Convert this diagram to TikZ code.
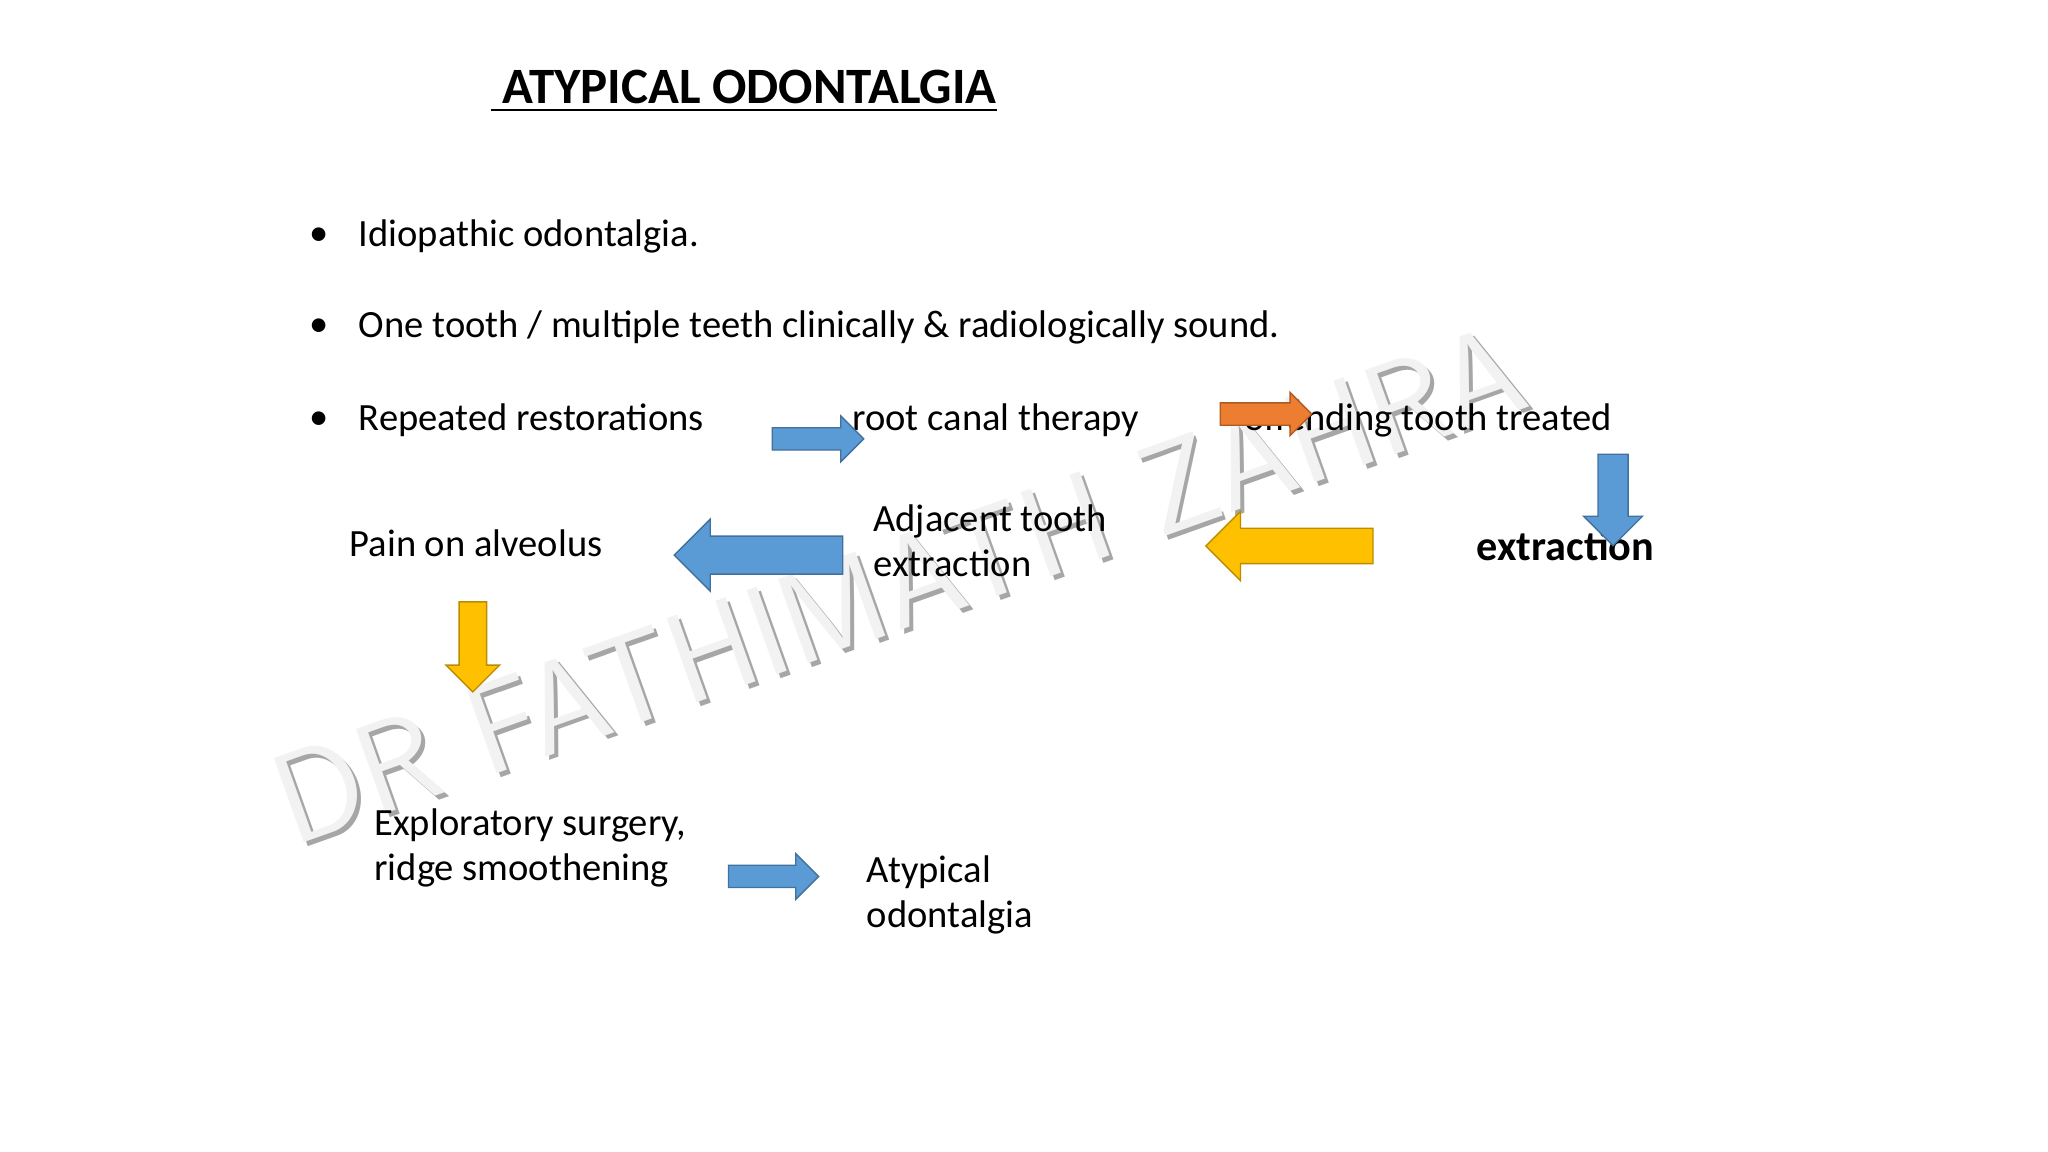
\documentclass[tikz,border=0pt]{standalone}
\usepackage{fontspec}
\setmainfont{Carlito}
\usetikzlibrary{shapes.arrows}
\definecolor{blu}{HTML}{5B9BD5}\definecolor{blub}{HTML}{41719C}
\definecolor{ora}{HTML}{ED7D31}\definecolor{orab}{HTML}{AE5A21}
\definecolor{yel}{HTML}{FFC000}\definecolor{yelb}{HTML}{BC8C00}
\tikzset{
 txt/.style={anchor=west,inner sep=0pt,font=\fontsize{8.4}{9.9}\selectfont,align=left},
 arr/.style={single arrow,inner xsep=0pt,line width=0.3pt},
 barrow/.style={arr,fill=blu,draw=blub},
 oarrow/.style={arr,fill=ora,draw=orab},
 yarrow/.style={arr,fill=yel,draw=yelb}}
\begin{document}
\begin{tikzpicture}[x=0.1mm,y=-0.1mm]
\useasboundingbox[fill=white] (0,0) rectangle (1568,882);
% watermark
\node[font=\sffamily\fontsize{28}{28}\selectfont,text=black!35,rotate=19.6,inner sep=0pt] (wms) at (691,450) {DR FATHIMATH ZAHRA};
\node[font=\sffamily\fontsize{28}{28}\selectfont,text=black!5,rotate=19.6,inner sep=0pt] (wm) at (688,447) {DR FATHIMATH ZAHRA};
\node[anchor=west,inner sep=0pt,font=\bfseries\fontsize{11.1}{12}\selectfont] (title) at (375,70) {\underline{\ ATYPICAL ODONTALGIA}};
\node[txt] (b1d) at (236,181) {•};
\node[txt] (b2d) at (236,251) {•};
\node[txt] (b3d) at (236,322) {•};
\node[txt] (b1) at (274,181) {Idiopathic odontalgia.};
\node[txt] (b2) at (274,251) {One tooth / multiple teeth clinically \& radiologically sound.};
\node[txt] (b3) at (274,322) {Repeated restorations};
\node[txt] (rct) at (652,322) {root canal therapy};
\node[txt] (off) at (952,322) {offending tooth treated};
\node[txt,font=\bfseries\fontsize{9.2}{10}\selectfont] (ext) at (1130,418) {extraction};
\node[txt] (adj) at (668,414) {Adjacent tooth\\extraction};
\node[txt] (pain) at (267,416) {Pain on alveolus};
\node[txt] (expl) at (286,649) {Exploratory surgery,\\ridge smoothening};
\node[txt] (aty) at (663,685) {Atypical\\odontalgia};
% arrows
\node[barrow,inner ysep=0.8mm,single arrow head extend=0.9mm,minimum height=7mm] (a1) at (622,336) {};
\node[oarrow,inner ysep=0.8mm,single arrow head extend=0.8mm,minimum height=7mm] (a2) at (965,317) {};
\node[barrow,inner ysep=1.1mm,single arrow head extend=1.1mm,minimum height=7mm,rotate=-90] (a3) at (1235,377) {};
\node[yarrow,inner ysep=1.3mm,single arrow head extend=1.3mm,minimum height=12.8mm,rotate=180] (a4) at (994,418) {};
\node[barrow,inner ysep=1.4mm,single arrow head extend=1.3mm,minimum height=12.9mm,rotate=180] (a5) at (588,425) {};
\node[yarrow,inner ysep=1.0mm,single arrow head extend=1.0mm,minimum height=6.9mm,rotate=-90] (a6) at (362,490) {};
\node[barrow,inner ysep=0.8mm,single arrow head extend=0.9mm,minimum height=6.9mm] (a7) at (588,671) {};
\end{tikzpicture}
\end{document}
